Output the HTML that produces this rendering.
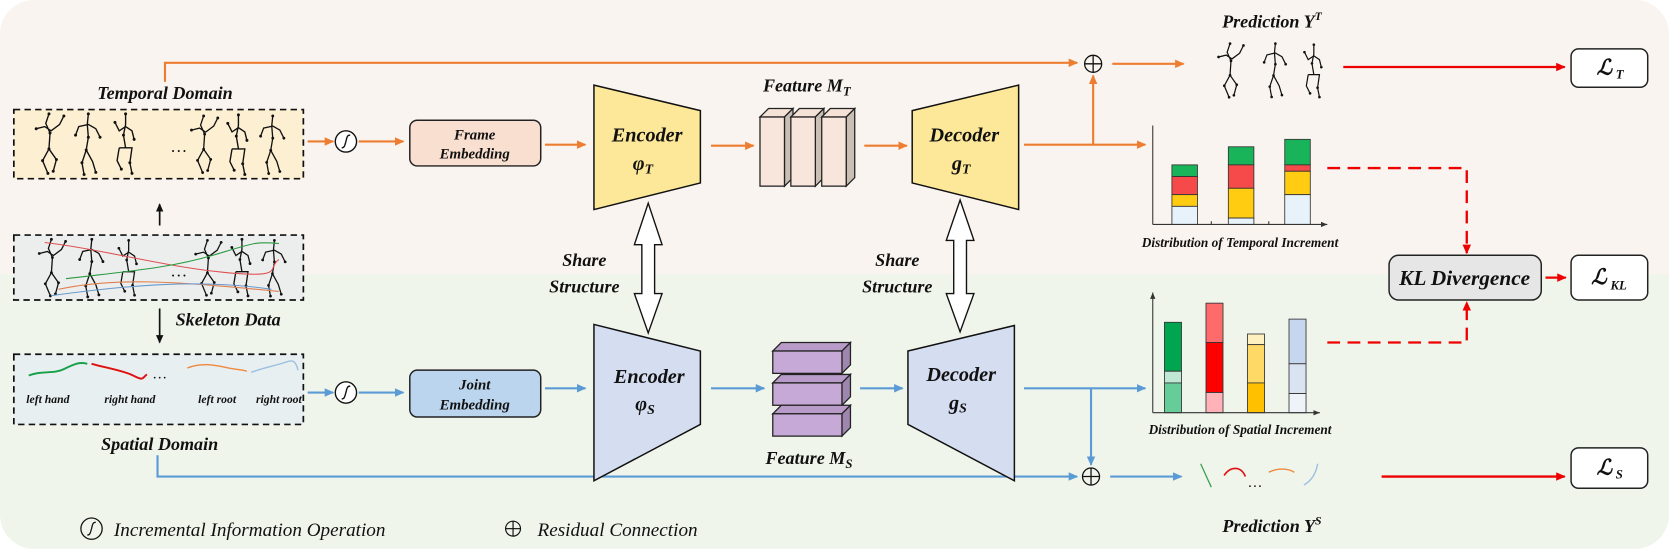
<!DOCTYPE html>
<html><head><meta charset="utf-8"><style>
html,body{margin:0;padding:0;background:#fff;}
svg{display:block;}
text{font-family:"Liberation Serif",serif;font-weight:bold;font-style:italic;fill:#111;}
text.n{font-weight:normal;}
text.d{font-weight:normal;font-style:normal;}
</style></head><body>
<svg width="1669" height="551" viewBox="0 0 1568 518" preserveAspectRatio="none" xmlns="http://www.w3.org/2000/svg">
<defs>
<marker id="ao" markerWidth="9" markerHeight="8" refX="8" refY="4" orient="auto" markerUnits="userSpaceOnUse"><path d="M0,0 L9,4 L0,8 z" fill="#ed7d31"/></marker>
<marker id="ab" markerWidth="9" markerHeight="8" refX="8" refY="4" orient="auto" markerUnits="userSpaceOnUse"><path d="M0,0 L9,4 L0,8 z" fill="#5b9bd5"/></marker>
<marker id="ar" markerWidth="9" markerHeight="8" refX="8" refY="4" orient="auto" markerUnits="userSpaceOnUse"><path d="M0,0 L9,4 L0,8 z" fill="#ee0000"/></marker>
<marker id="ak" markerWidth="8" markerHeight="7" refX="7" refY="3.5" orient="auto" markerUnits="userSpaceOnUse"><path d="M0,0 L8,3.5 L0,7 z" fill="#111"/></marker>
<marker id="ax" markerWidth="6" markerHeight="5" refX="6" refY="2.5" orient="auto" markerUnits="userSpaceOnUse"><path d="M0,0 L6,2.5 L0,5 z" fill="#333"/></marker>
<clipPath id="bgc"><rect x="0" y="0" width="1568" height="516" rx="32"/></clipPath>
<g id="sk1" fill="none" stroke="#111" stroke-width="1.3">
<path d="M14 0 L11 9 L15 18 L14 33 M2 14 L10 12 L16 16 L24 10 L28 2 M14 33 L8 44 L13 56 M14 33 L21 43 L18 54"/>
<g fill="#111" stroke="none"><circle cx="14" cy="0" r="1.4"/><circle cx="15" cy="18" r="1.4"/><circle cx="14" cy="33" r="1.4"/><circle cx="2" cy="14" r="1.4"/><circle cx="28" cy="2" r="1.4"/><circle cx="8" cy="44" r="1.4"/><circle cx="13" cy="56" r="1.4"/><circle cx="21" cy="43" r="1.4"/><circle cx="18" cy="54" r="1.4"/></g>
</g>
<g id="sk2" fill="none" stroke="#111" stroke-width="1.3">
<path d="M15 0 L14 10 L15 22 L13 34 M3 20 L6 12 L15 10 L22 14 L26 22 M13 34 L9 46 L11 57 M13 34 L19 45 L22 55"/>
<g fill="#111" stroke="none"><circle cx="15" cy="0" r="1.4"/><circle cx="15" cy="22" r="1.4"/><circle cx="13" cy="34" r="1.4"/><circle cx="3" cy="20" r="1.4"/><circle cx="26" cy="22" r="1.4"/><circle cx="9" cy="46" r="1.4"/><circle cx="11" cy="57" r="1.4"/><circle cx="22" cy="55" r="1.4"/></g>
</g>
<g id="sk3" fill="none" stroke="#111" stroke-width="1.3">
<path d="M14 0 L14 10 L12 20 L14 32 M4 8 L8 16 L14 12 L20 16 L22 24 M8 32 L20 32 L18 46 L20 56 M8 32 L6 44 L10 52"/>
<g fill="#111" stroke="none"><circle cx="14" cy="0" r="1.4"/><circle cx="12" cy="20" r="1.4"/><circle cx="4" cy="8" r="1.4"/><circle cx="22" cy="24" r="1.4"/><circle cx="20" cy="56" r="1.4"/><circle cx="10" cy="52" r="1.4"/><circle cx="18" cy="46" r="1.4"/></g>
</g>
</defs>

<g clip-path="url(#bgc)">
<rect x="0" y="0" width="1568" height="258" fill="#f9f4ef"/>
<rect x="0" y="258" width="1568" height="260" fill="#f0f5ec"/>
</g>

<text x="155" y="93" font-size="17" text-anchor="middle">Temporal Domain</text>
<rect x="13" y="103" width="272" height="65" fill="#fdf0d2" stroke="#111" stroke-width="1.6" stroke-dasharray="6,4"/>
<use href="#sk1" transform="translate(32,107)"/>
<use href="#sk2" transform="translate(68,107)"/>
<use href="#sk3" transform="translate(104,107)"/>
<text class="d" x="160" y="143" font-size="16">…</text>
<use href="#sk1" transform="translate(178,109) scale(0.95)"/>
<use href="#sk3" transform="translate(210,108)"/>
<use href="#sk2" transform="translate(242,109) scale(0.95)"/>

<line x1="150" y1="212" x2="150" y2="192" stroke="#111" stroke-width="1.6" marker-end="url(#ak)"/>

<rect x="13" y="221" width="272" height="61" fill="#eceeee" stroke="#111" stroke-width="1.6" stroke-dasharray="6,4"/>
<use href="#sk1" transform="translate(35,225) scale(0.95)"/>
<use href="#sk2" transform="translate(72,225) scale(0.95)"/>
<use href="#sk3" transform="translate(108,226) scale(0.92)"/>
<use href="#sk1" transform="translate(182,226) scale(0.92)"/>
<use href="#sk3" transform="translate(214,225) scale(0.95)"/>
<use href="#sk2" transform="translate(244,226) scale(0.92)"/>
<path d="M42 228 C100 235 150 250 210 256 S250 252 262 244" fill="none" stroke="#e05050" stroke-width="1"/>
<path d="M62 262 C120 255 160 252 200 240 S240 227 262 229" fill="none" stroke="#2a9a40" stroke-width="1"/>
<path d="M55 272 C110 260 170 265 262 274" fill="none" stroke="#e08050" stroke-width="1"/>
<path d="M48 278 C120 268 190 262 255 272" fill="none" stroke="#6699cc" stroke-width="1"/>
<text class="d" x="160" y="260" font-size="16">…</text>

<text x="165" y="306" font-size="17">Skeleton Data</text>
<line x1="150" y1="290" x2="150" y2="322" stroke="#111" stroke-width="1.6" marker-end="url(#ak)"/>

<rect x="13" y="333" width="272" height="66" fill="#e8eff0" stroke="#111" stroke-width="1.6" stroke-dasharray="6,4"/>
<path d="M27 353 C40 348 50 352 60 347 S75 340 82 342" fill="none" stroke="#1aa04a" stroke-width="1.8"/>
<path d="M86 342 C100 346 115 348 125 353 S133 356 138 352" fill="none" stroke="#e01010" stroke-width="1.8"/>
<text class="d" x="143" y="356" font-size="14">…</text>
<path d="M176 346 C190 340 205 344 215 346 S225 347 232 349" fill="none" stroke="#ed8a3e" stroke-width="1.3"/>
<path d="M236 350 C250 345 262 343 270 340 S279 345 280 348" fill="none" stroke="#9bbfe0" stroke-width="1.3"/>
<text x="45" y="379" font-size="11" text-anchor="middle">left hand</text>
<text x="122" y="379" font-size="11" text-anchor="middle">right hand</text>
<text x="204" y="379" font-size="11" text-anchor="middle">left root</text>
<text x="262" y="379" font-size="11" text-anchor="middle">right root</text>
<text x="150" y="423" font-size="17" text-anchor="middle">Spatial Domain</text>

<path d="M155 77 L155 59 L1012 59" fill="none" stroke="#ed7d31" stroke-width="2" marker-end="url(#ao)"/>
<path d="M148 428 L148 448 L1012 448" fill="none" stroke="#5b9bd5" stroke-width="2" marker-end="url(#ab)"/>

<line x1="289" y1="133" x2="313" y2="133" stroke="#ed7d31" stroke-width="2" marker-end="url(#ao)"/>
<circle cx="325" cy="133" r="10" fill="#fff" stroke="#111" stroke-width="1.3"/>
<path d="M321 139 C324 139 324 136 325 133 C326 129 326 127 329 127" fill="none" stroke="#111" stroke-width="1.3"/>
<line x1="337" y1="133" x2="379" y2="133" stroke="#ed7d31" stroke-width="2" marker-end="url(#ao)"/>
<rect x="385" y="113" width="123" height="43" rx="7" fill="#f9dfd0" stroke="#222" stroke-width="1.4"/>
<text x="446" y="131" font-size="14" text-anchor="middle">Frame</text>
<text x="446" y="149" font-size="14" text-anchor="middle">Embedding</text>
<line x1="512" y1="136" x2="550" y2="136" stroke="#ed7d31" stroke-width="2" marker-end="url(#ao)"/>

<line x1="289" y1="369" x2="313" y2="369" stroke="#5b9bd5" stroke-width="2" marker-end="url(#ab)"/>
<circle cx="325" cy="369" r="10" fill="#fff" stroke="#111" stroke-width="1.3"/>
<path d="M321 375 C324 375 324 372 325 369 C326 365 326 363 329 363" fill="none" stroke="#111" stroke-width="1.3"/>
<line x1="337" y1="369" x2="379" y2="369" stroke="#5b9bd5" stroke-width="2" marker-end="url(#ab)"/>
<rect x="385" y="348" width="123" height="44" rx="7" fill="#bcd5ee" stroke="#222" stroke-width="1.4"/>
<text x="446" y="366" font-size="14" text-anchor="middle">Joint</text>
<text x="446" y="385" font-size="14" text-anchor="middle">Embedding</text>
<line x1="512" y1="365" x2="550" y2="365" stroke="#5b9bd5" stroke-width="2" marker-end="url(#ab)"/>

<polygon points="558,80 658,104 658,172 558,197" fill="#fde89a" stroke="#111" stroke-width="1.4"/>
<text x="608" y="133" font-size="19" text-anchor="middle">Encoder</text>
<text x="604" y="160" font-size="19" text-anchor="middle">φ<tspan font-size="13" dy="3">T</tspan></text>
<polygon points="558,305 658,330 658,399 558,452" fill="#d5ddf0" stroke="#111" stroke-width="1.4"/>
<text x="610" y="360" font-size="19" text-anchor="middle">Encoder</text>
<text x="606" y="386" font-size="19" text-anchor="middle">φ<tspan font-size="13" dy="3">S</tspan></text>

<polygon points="857,104 957,80 957,197 857,172" fill="#fde89a" stroke="#111" stroke-width="1.4"/>
<text x="906" y="133" font-size="19" text-anchor="middle">Decoder</text>
<text x="903" y="160" font-size="19" text-anchor="middle">g<tspan font-size="13" dy="3">T</tspan></text>
<polygon points="853,330 953,306 953,452 853,399" fill="#d5ddf0" stroke="#111" stroke-width="1.4"/>
<text x="903" y="358" font-size="19" text-anchor="middle">Decoder</text>
<text x="900" y="385" font-size="19" text-anchor="middle">g<tspan font-size="13" dy="3">S</tspan></text>

<polygon points="609,191 622,230 615,230 615,276 622,276 609,313 596,276 603,276 603,230 596,230" fill="#fff" stroke="#111" stroke-width="1.3"/>
<polygon points="902,188 915,226 908,226 908,276 915,276 902,312 889,276 896,276 896,226 889,226" fill="#fff" stroke="#111" stroke-width="1.3"/>
<text x="549" y="250" font-size="17" text-anchor="middle">Share</text>
<text x="549" y="275" font-size="17" text-anchor="middle">Structure</text>
<text x="843" y="250" font-size="17" text-anchor="middle">Share</text>
<text x="843" y="275" font-size="17" text-anchor="middle">Structure</text>

<text x="758" y="86" font-size="17" text-anchor="middle">Feature M<tspan font-size="12" dy="4">T</tspan></text>
<line x1="668" y1="137" x2="708" y2="137" stroke="#ed7d31" stroke-width="2" marker-end="url(#ao)"/>
<g stroke="#222" stroke-width="1.2">
<polygon points="714,110 722,102 745,102 737,110" fill="#f4e2d6"/><polygon points="737,110 745,102 745,167 737,175" fill="#c9bfb5"/><rect x="714" y="110" width="23" height="65" fill="#f8e6dc"/>
<polygon points="743,110 751,102 774,102 766,110" fill="#f4e2d6"/><polygon points="766,110 774,102 774,167 766,175" fill="#c9bfb5"/><rect x="743" y="110" width="23" height="65" fill="#f8e6dc"/>
<polygon points="772,110 780,102 803,102 795,110" fill="#f4e2d6"/><polygon points="795,110 803,102 803,167 795,175" fill="#c9bfb5"/><rect x="772" y="110" width="23" height="65" fill="#f8e6dc"/>
</g>
<line x1="812" y1="137" x2="852" y2="137" stroke="#ed7d31" stroke-width="2" marker-end="url(#ao)"/>

<line x1="668" y1="365" x2="718" y2="365" stroke="#5b9bd5" stroke-width="2" marker-end="url(#ab)"/>
<g stroke="#222" stroke-width="1.2">
<polygon points="726,330 734,322 799,322 791,330" fill="#b89bc8"/><polygon points="791,330 799,322 799,343 791,351" fill="#9f86ae"/><rect x="726" y="330" width="65" height="21" fill="#c6a9d6"/>
<polygon points="726,360 734,352 799,352 791,360" fill="#b89bc8"/><polygon points="791,360 799,352 799,373 791,381" fill="#9f86ae"/><rect x="726" y="360" width="65" height="21" fill="#c6a9d6"/>
<polygon points="726,389 734,381 799,381 791,389" fill="#b89bc8"/><polygon points="791,389 799,381 799,402 791,410" fill="#9f86ae"/><rect x="726" y="389" width="65" height="21" fill="#c6a9d6"/>
</g>
<line x1="808" y1="365" x2="848" y2="365" stroke="#5b9bd5" stroke-width="2" marker-end="url(#ab)"/>
<text x="760" y="436" font-size="17" text-anchor="middle">Feature M<tspan font-size="12" dy="4">S</tspan></text>

<line x1="962" y1="136" x2="1076" y2="136" stroke="#ed7d31" stroke-width="2" marker-end="url(#ao)"/>
<line x1="1027" y1="136" x2="1027" y2="71" stroke="#ed7d31" stroke-width="2" marker-end="url(#ao)"/>
<line x1="962" y1="365" x2="1076" y2="365" stroke="#5b9bd5" stroke-width="2" marker-end="url(#ab)"/>
<line x1="1025" y1="365" x2="1025" y2="437" stroke="#5b9bd5" stroke-width="2" marker-end="url(#ab)"/>

<g fill="none" stroke="#111" stroke-width="1.2">
<circle cx="1027" cy="60" r="8"/><line x1="1019" y1="60" x2="1035" y2="60"/><line x1="1027" y1="52" x2="1027" y2="68"/>
<circle cx="1025" cy="448" r="8"/><line x1="1017" y1="448" x2="1033" y2="448"/><line x1="1025" y1="440" x2="1025" y2="456"/>
</g>
<line x1="1045" y1="60" x2="1112" y2="60" stroke="#ed7d31" stroke-width="2" marker-end="url(#ao)"/>
<line x1="1043" y1="448" x2="1110" y2="448" stroke="#5b9bd5" stroke-width="2" marker-end="url(#ab)"/>

<text x="1195" y="26" font-size="17" text-anchor="middle">Prediction Y<tspan font-size="11" dy="-7">T</tspan></text>
<use href="#sk1" transform="translate(1143,41) scale(0.9)"/>
<use href="#sk2" transform="translate(1185,41) scale(0.88)"/>
<use href="#sk3" transform="translate(1222,42) scale(0.88)"/>
<line x1="1262" y1="63" x2="1470" y2="63" stroke="#ee0000" stroke-width="2.2" marker-end="url(#ar)"/>
<rect x="1476" y="46" width="72" height="36" rx="7" fill="#fff" stroke="#222" stroke-width="1.4"/>
<text x="1500" y="70" font-size="20">ℒ</text><text x="1518" y="74" font-size="12">T</text>

<g stroke="#333" stroke-width="0.8">
<rect x="1101" y="155" width="24" height="11" fill="#19b459"/><rect x="1101" y="166" width="24" height="17" fill="#f64a4a"/><rect x="1101" y="183" width="24" height="11" fill="#ffcc11"/><rect x="1101" y="194" width="24" height="17" fill="#e8f2fb"/>
<rect x="1154" y="138" width="24" height="17" fill="#19b459"/><rect x="1154" y="155" width="24" height="22" fill="#f64a4a"/><rect x="1154" y="177" width="24" height="28" fill="#ffcc11"/><rect x="1154" y="205" width="24" height="6" fill="#e8f2fb"/>
<rect x="1207" y="131" width="24" height="24" fill="#19b459"/><rect x="1207" y="155" width="24" height="6" fill="#f64a4a"/><rect x="1207" y="161" width="24" height="22" fill="#ffcc11"/><rect x="1207" y="183" width="24" height="28" fill="#e8f2fb"/>
</g>
<line x1="1083" y1="211" x2="1083" y2="118" stroke="#333" stroke-width="1"/>
<line x1="1083" y1="211" x2="1247" y2="211" stroke="#333" stroke-width="1" marker-end="url(#ax)"/>
<line x1="1138" y1="211" x2="1138" y2="208" stroke="#333"/><line x1="1192" y1="211" x2="1192" y2="208" stroke="#333"/>
<text x="1165" y="232" font-size="12.5" text-anchor="middle">Distribution of Temporal Increment</text>

<g stroke="#333" stroke-width="0.8">
<rect x="1094" y="303" width="16" height="46" fill="#00a550"/><rect x="1094" y="349" width="16" height="11" fill="#bfe8d4"/><rect x="1094" y="360" width="16" height="28" fill="#66cc99"/>
<rect x="1133" y="285" width="16" height="37" fill="#ff6b6b"/><rect x="1133" y="322" width="16" height="47" fill="#ff0000"/><rect x="1133" y="369" width="16" height="19" fill="#ffb3b8"/>
<rect x="1172" y="314" width="16" height="10" fill="#fff0c0"/><rect x="1172" y="324" width="16" height="36" fill="#ffd966"/><rect x="1172" y="360" width="16" height="28" fill="#ffc000"/>
<rect x="1211" y="300" width="16" height="42" fill="#c5d6ee"/><rect x="1211" y="342" width="16" height="28" fill="#dae3f2"/><rect x="1211" y="370" width="16" height="18" fill="#eef3fa"/>
</g>
<line x1="1083" y1="388" x2="1083" y2="275" stroke="#333" stroke-width="1" marker-end="url(#ax)"/>
<line x1="1083" y1="388" x2="1240" y2="388" stroke="#333" stroke-width="1" marker-end="url(#ax)"/>
<text x="1165" y="408" font-size="12.5" text-anchor="middle">Distribution of Spatial Increment</text>

<path d="M1247 158 L1378 158 L1378 238" fill="none" stroke="#ee0000" stroke-width="2.2" stroke-dasharray="12,7" marker-end="url(#ar)"/>
<path d="M1247 322 L1378 322 L1378 284" fill="none" stroke="#ee0000" stroke-width="2.2" stroke-dasharray="12,7" marker-end="url(#ar)"/>
<rect x="1305" y="240" width="143" height="42" rx="9" fill="#e6e6e6" stroke="#222" stroke-width="1.4"/>
<text x="1376" y="268" font-size="20" text-anchor="middle">KL Divergence</text>
<line x1="1452" y1="261" x2="1471" y2="261" stroke="#ee0000" stroke-width="2.2" marker-end="url(#ar)"/>
<rect x="1476" y="240" width="72" height="42" rx="7" fill="#fff" stroke="#222" stroke-width="1.4"/>
<text x="1495" y="267" font-size="20">ℒ</text><text x="1513" y="272" font-size="12">KL</text>

<path d="M1128 436 L1138 458" stroke="#3aa050" stroke-width="1.2" fill="none"/>
<path d="M1150 447 C1156 438 1166 438 1170 448" stroke="#e01010" stroke-width="1.5" fill="none"/>
<text class="d" x="1172" y="458" font-size="14">…</text>
<path d="M1192 444 C1200 440 1210 440 1216 444" stroke="#ed8a3e" stroke-width="1.3" fill="none"/>
<path d="M1238 436 C1236 446 1232 452 1225 456" stroke="#9bbfe0" stroke-width="1.3" fill="none"/>
<line x1="1298" y1="448" x2="1470" y2="448" stroke="#ee0000" stroke-width="2.2" marker-end="url(#ar)"/>
<rect x="1476" y="421" width="72" height="38" rx="7" fill="#fff" stroke="#222" stroke-width="1.4"/>
<text x="1500" y="446" font-size="20">ℒ</text><text x="1518" y="450" font-size="12">S</text>
<text x="1195" y="500" font-size="17" text-anchor="middle">Prediction Y<tspan font-size="11" dy="-7">S</tspan></text>

<circle cx="86" cy="497" r="10" fill="none" stroke="#111" stroke-width="1.2"/>
<path d="M82 503 C85 503 85 500 86 497 C87 493 87 491 90 491" fill="none" stroke="#111" stroke-width="1.2"/>
<text class="n" x="107" y="504" font-size="18">Incremental Information Operation</text>
<g fill="none" stroke="#111" stroke-width="1.1"><circle cx="482" cy="497" r="7"/><line x1="475" y1="497" x2="489" y2="497"/><line x1="482" y1="490" x2="482" y2="504"/></g>
<text class="n" x="505" y="504" font-size="18">Residual Connection</text>
</svg>
</body></html>
